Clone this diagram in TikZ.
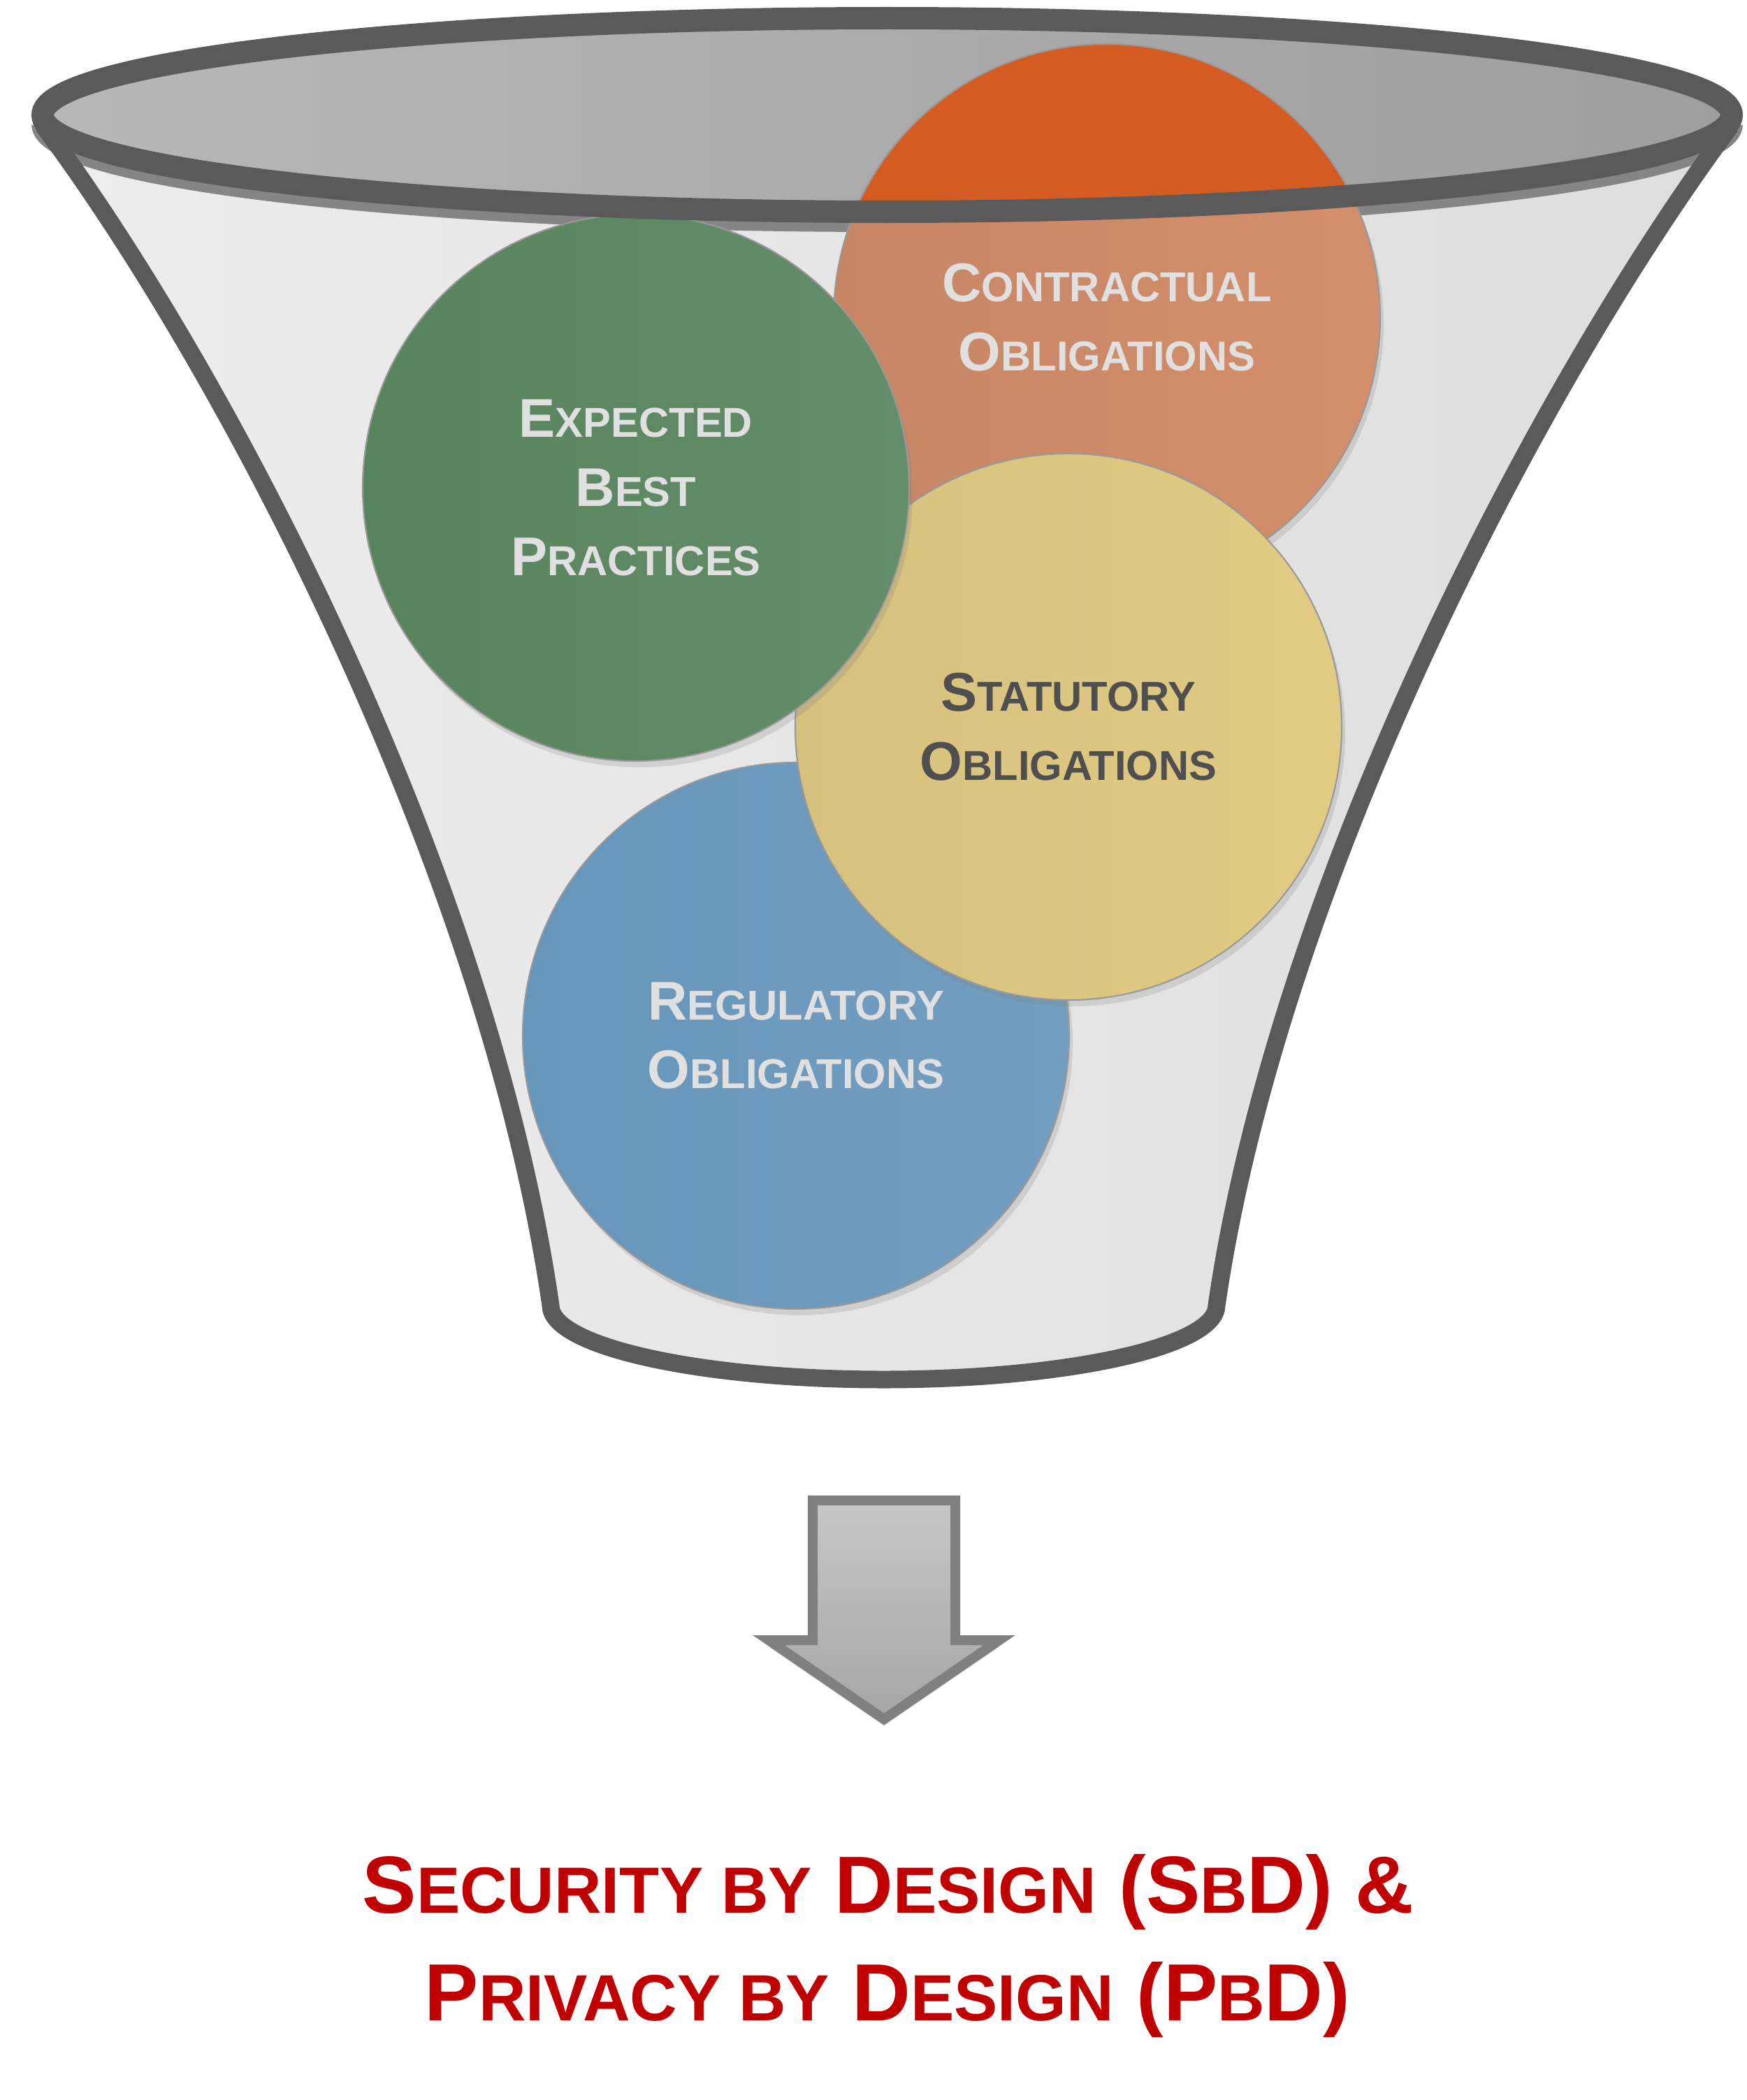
\documentclass[tikz,border=0pt]{standalone}
\usepackage{fontspec}
\setmainfont{Liberation Sans}
\usepackage{tikz}
\usetikzlibrary{arrows,%
                shapes,positioning,shadows}

\definecolor{rimgray}{HTML}{5A5A5A}
\definecolor{sbdred}{HTML}{C00000}
\definecolor{lbltext}{HTML}{E0E0E0}
\definecolor{darktext}{HTML}{4F4F4F}
\newcommand\capw[2]{#1{\fontsize{17}{28.1}\selectfont #2}}
\newcommand\capt[2]{#1{\fontsize{26.6}{44}\selectfont #2}}

\begin{document}
\begin{tikzpicture}[x=1cm,y=1cm,
  ball/.style={circle,minimum size=7.82cm,inner sep=0pt,draw=black!40,line width=0.6pt,
    align=center,text=lbltext,font=\bfseries\fontsize{22.2}{28.1}\selectfont,
    drop shadow={opacity=0.22,shadow xshift=0.05cm,shadow yshift=-0.09cm}},
  rim/.style={draw=rimgray,line width=0.32cm},
  side/.style={draw=rimgray,line width=0.25cm,line join=round},
  title/.style={anchor=base,text=sbdred,font=\bfseries\fontsize{33}{44}\selectfont}]
\useasboundingbox (0,0) rectangle (24.99,-30.05);
\fill[white] (0,0) rectangle (24.99,-30.05);
% funnel body
\fill[left color=black!7,right color=black!13] (0.62,-1.80) .. controls (3.30,-5.40) and (7.00,-12.56) .. (7.88,-18.68)
  arc[start angle=180,end angle=360,x radius=4.765,y radius=1.06]
  .. controls (18.30,-12.56) and (22.09,-5.40) .. (24.77,-1.80) -- cycle;
\fill[left color=black!28,right color=black!38] (12.695,-1.645) ellipse [x radius=12.085,y radius=1.385];
\draw[line width=0.32cm,black!48] (0.61,-1.775) arc[start angle=180,end angle=360,x radius=12.085,y radius=1.385];
%\node[ball] (X) at (0,0) {};
\node[ball,left color={rgb,255:red,198;green,134;blue,102},right color={rgb,255:red,212;green,143;blue,106}] (C) at (15.84,-4.54)
  {\capw{C}{ONTRACTUAL}\\\capw{O}{BLIGATIONS}};
\node[ball,left color={rgb,255:red,102;green,150;blue,186},right color={rgb,255:red,116;green,158;blue,192}] (R) at (11.39,-14.82)
  {\capw{R}{EGULATORY}\\\capw{O}{BLIGATIONS}};
\node[ball,text=darktext,left color={rgb,255:red,213;green,192;blue,126},right color={rgb,255:red,226;green,204;blue,131}] (S) at (15.29,-10.40)
  {\capw{S}{TATUTORY}\\\capw{O}{BLIGATIONS}};
\node[ball,left color={rgb,255:red,88;green,132;blue,93},right color={rgb,255:red,100;green,141;blue,105}] (E) at (9.10,-6.98)
  {\capw{E}{XPECTED}\\\capw{B}{EST}\\\capw{P}{RACTICES}};
\begin{scope}
\clip (12.695,-1.645) ellipse [x radius=12.085,y radius=1.385];
\draw[draw=black!40,line width=0.6pt,left color={rgb,255:red,212;green,92;blue,34},middle color={rgb,255:red,228;green,110;blue,46},right color={rgb,255:red,212;green,92;blue,34}] (C.center) circle (3.91);
\end{scope}
\draw[side] (0.62,-1.80) .. controls (3.30,-5.40) and (7.00,-12.56) .. (7.88,-18.68)
  arc[start angle=180,end angle=360,x radius=4.765,y radius=1.06]
  .. controls (18.30,-12.56) and (22.09,-5.40) .. (24.77,-1.80);
\draw[rim] (12.695,-1.645) ellipse [x radius=12.085,y radius=1.385];
% arrow
\draw[draw=black!50,line width=0.14cm,top color=black!22,bottom color=black!35,
  drop shadow={opacity=0.2,shadow xshift=0cm,shadow yshift=-0.1cm}]
  (11.63,-21.47) -- (13.67,-21.47) -- (13.67,-23.47) -- (14.30,-23.47) -- (12.65,-24.60)
  -- (11.00,-23.47) -- (11.63,-23.47) -- cycle;
\node[title] (sbd) at (12.71,-27.37) {\capt{S}{ECURITY BY} \capt{D}{ESIGN} (\capt{S}{B}D) \&};
\node[title] (pbd) at (12.70,-28.91) {\capt{P}{RIVACY BY} \capt{D}{ESIGN} (\capt{P}{B}D)};
\end{tikzpicture}
\end{document}
